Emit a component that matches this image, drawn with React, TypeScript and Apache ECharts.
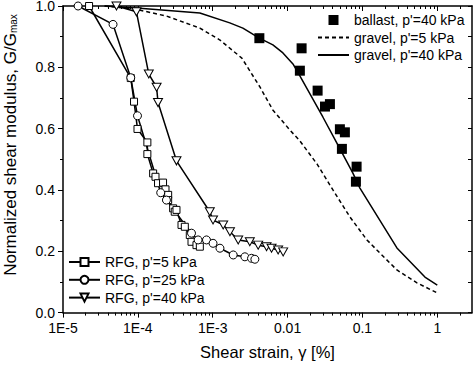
import React, { useEffect, useRef } from 'react';
import * as echarts from 'echarts';

const FONT = '"Liberation Sans", Arial, Helvetica, sans-serif';

// Axis ticks / labels
const xMajorTicks = [1e-5, 1e-4, 1e-3, 0.01, 0.1, 1];
const xTickLabels = ['1E-5', '1E-4', '1E-3', '0.01', '0.1', '1'];
const xMinorMultipliers = [2, 3, 4, 5, 6, 7, 8, 9];
const xMin = 1e-5;
const xMax = 2.91;
const yTicks = [0, 0.2, 0.4, 0.6, 0.8, 1.0];

// Series names
const nameBallast = "ballast, p'=40 kPa";
const nameGravel5 = "gravel, p'=5 kPa";
const nameGravel40 = "gravel, p'=40 kPa";
const nameRfg5 = "RFG, p'=5 kPa";
const nameRfg25 = "RFG, p'=25 kPa";
const nameRfg40 = "RFG, p'=40 kPa";

// Data (shear strain in %, normalized G/Gmax)
const ballastStrain = [0.0042, 0.0154, 0.0146, 0.0252, 0.0316, 0.0368, 0.050, 0.0583, 0.0532, 0.0836, 0.0819];
const ballastG = [0.895, 0.862, 0.789, 0.724, 0.672, 0.680, 0.598, 0.588, 0.534, 0.476, 0.427];

const gravel5Strain = [3.6e-5, 9.1e-5, 2.43e-4, 6.73e-4, 1.25e-3, 2.45e-3, 4.27e-3, 6.35e-3, 0.0107, 0.0146, 0.0247, 0.0404, 0.0681, 0.115, 0.156, 0.289, 0.535, 1.0];
const gravel5G = [1.0, 0.990, 0.967, 0.928, 0.889, 0.830, 0.736, 0.661, 0.596, 0.560, 0.485, 0.400, 0.312, 0.237, 0.204, 0.139, 0.097, 0.064];

const gravel40Strain = [3.6e-5, 1.06e-4, 6.73e-4, 1.69e-3, 2.53e-3, 4.14e-3, 6.37e-3, 8.67e-3, 0.0118, 0.0146, 0.0296, 0.0456, 0.0746, 0.0926, 0.289, 0.684, 1.0];
const gravel40G = [1.0, 0.993, 0.977, 0.945, 0.928, 0.896, 0.873, 0.847, 0.811, 0.772, 0.638, 0.553, 0.455, 0.406, 0.211, 0.116, 0.090];

const rfg5Strain = [2.23e-5, 8.04e-5, 8.89e-5, 9.89e-5, 1.34e-4, 1.34e-4, 1.6e-4, 1.72e-4, 1.86e-4, 2.17e-4, 2.34e-4, 2.54e-4, 2.54e-4, 2.96e-4, 3.11e-4, 3.28e-4, 3.83e-4, 4.24e-4, 4.94e-4, 5.21e-4, 6.07e-4, 6.73e-4];
const rfg5G = [1.0, 0.765, 0.688, 0.599, 0.555, 0.517, 0.454, 0.443, 0.422, 0.424, 0.402, 0.384, 0.367, 0.340, 0.329, 0.335, 0.286, 0.280, 0.253, 0.231, 0.220, 0.215];

const rfg25Strain = [1.59e-5, 4.66e-5, 8.04e-5, 9.89e-5, 2.02e-4, 2.41e-4, 5.21e-4, 6.38e-4, 8.26e-4, 1.01e-3, 1.25e-3, 1.88e-3, 2.69e-3, 3.3e-3, 3.66e-3];
const rfg25G = [1.0, 0.940, 0.766, 0.642, 0.391, 0.367, 0.259, 0.237, 0.237, 0.226, 0.210, 0.188, 0.182, 0.177, 0.174];

const rfg40Strain = [5.18e-5, 9.57e-5, 1.40e-4, 1.78e-4, 1.86e-4, 3.28e-4, 9.14e-4, 1.01e-3, 1.38e-3, 1.70e-3, 2.19e-3, 3.13e-3, 4.05e-3, 5.24e-3, 6.11e-3, 7.48e-3, 8.73e-3];
const rfg40G = [1.0, 0.981, 0.778, 0.735, 0.685, 0.495, 0.329, 0.302, 0.286, 0.264, 0.237, 0.231, 0.220, 0.215, 0.210, 0.204, 0.198];

const zip = (xs: number[], ys: number[]) => xs.map((x, i) => [x, ys[i]]);

const xMinorTicks: number[] = [];
xMajorTicks.forEach((m) => {
  xMinorMultipliers.forEach((k) => {
    const v = m * k;
    if (v <= xMax) xMinorTicks.push(v);
  });
});

const xLabel = (v: number) => {
  const idx = xMajorTicks.findIndex((m) => Math.abs(Math.log10(v) - Math.log10(m)) < 1e-6);
  return idx >= 0 ? xTickLabels[idx] : '';
};

const black = '#000';

function makeXAxis(position: 'top' | 'bottom', major: boolean, inside: boolean, withLabels: boolean) {
  return {
    type: 'log',
    logBase: 10,
    min: xMin,
    max: xMax,
    position,
    name: withLabels ? 'Shear strain, \u03b3 [%]' : '',
    nameLocation: 'middle',
    nameGap: 31,
    nameTextStyle: { fontSize: 16.5, color: black, fontFamily: FONT },
    axisLine: { show: major, onZero: false, lineStyle: { color: black, width: 1.5 } },
    axisTick: {
      show: true,
      inside,
      length: major ? 5 : 3,
      customValues: major ? xMajorTicks : xMinorTicks,
      lineStyle: { color: black, width: 1 },
    },
    axisLabel: {
      show: withLabels,
      customValues: xMajorTicks,
      margin: 8,
      fontSize: 14,
      color: black,
      fontFamily: FONT,
      formatter: (v: number) => xLabel(v),
    },
    splitLine: { show: false },
    minorTick: { show: false },
    minorSplitLine: { show: false },
  };
}

function makeYAxis(position: 'left' | 'right') {
  const left = position === 'left';
  return {
    type: 'value',
    min: yTicks[0],
    max: yTicks[yTicks.length - 1],
    interval: 0.2,
    position,
    axisLine: { show: true, onZero: false, lineStyle: { color: black, width: 1.5 } },
    axisTick: { show: true, inside: !left, length: left ? 5 : 4, lineStyle: { color: black, width: 1 } },
    minorTick: { show: true, splitNumber: 2, length: left ? 3 : 4, lineStyle: { color: black, width: 1 } },
    axisLabel: {
      show: left,
      margin: 8,
      fontSize: 14,
      lineHeight: 11,
      color: black,
      fontFamily: FONT,
      formatter: (v: number) => v.toFixed(1),
    },
    splitLine: { show: false },
  };
}

const openSymbolStyle = { color: '#fff', borderColor: black, borderWidth: 1, opacity: 1 };
const rfgLine = { color: black, width: 1.5 };

export default function App() {
  const ref = useRef<HTMLDivElement>(null);

  useEffect(() => {
    document.body.style.margin = '0';
    if (!ref.current) return;
    const chart = echarts.init(ref.current, undefined, { renderer: 'svg' });
    const option: any = {
      animation: false,
      textStyle: { fontFamily: FONT },
      grid: { left: 63, right: 2, top: 6, bottom: 53.4, containLabel: false, outerBoundsMode: 'none' },
      xAxis: [
        makeXAxis('bottom', true, false, true),
        makeXAxis('bottom', false, false, false),
        makeXAxis('top', true, true, false),
        makeXAxis('top', false, true, false),
      ],
      yAxis: [makeYAxis('left'), makeYAxis('right')],
      legend: [
        {
          data: [
            { name: nameBallast, icon: 'path://M0,0H10V10H0Z', itemStyle: { opacity: 1 } },
            { name: nameGravel5, itemStyle: { opacity: 0 } },
            { name: nameGravel40, itemStyle: { opacity: 0 } },
          ],
          orient: 'vertical',
          left: 317,
          top: 13,
          padding: 0,
          itemWidth: 31,
          itemHeight: 10,
          itemGap: 3.5,
          symbolKeepAspect: true,
          textStyle: { fontSize: 14, color: black, fontFamily: FONT },
        },
        {
          data: [nameRfg5, nameRfg25, nameRfg40],
          orient: 'vertical',
          left: 68,
          top: 255,
          padding: 0,
          itemWidth: 31,
          itemHeight: 10,
          itemGap: 3.8,
          textStyle: { fontSize: 14, color: black, fontFamily: FONT },
        },
      ],
      graphic: [
        {
          type: 'text',
          x: 10,
          y: 145,
          rotation: Math.PI / 2,
          style: {
            text: '{a|Normalized shear modulus, G/G}{b|max}',
            align: 'center',
            verticalAlign: 'middle',
            fill: black,
            rich: {
              a: { fontSize: 17, fontFamily: FONT, fill: black, lineHeight: 17, verticalAlign: 'top' },
              b: { fontSize: 10, fontFamily: FONT, fill: black, lineHeight: 10, verticalAlign: 'bottom', padding: [10, 0, 0, 0] },
            },
          },
        },
      ],
      series: [
        {
          name: nameGravel5,
          type: 'line',
          data: zip(gravel5Strain, gravel5G),
          symbol: 'none',
          showSymbol: false,
          clip: false,
          itemStyle: { color: black },
          lineStyle: { color: black, width: 1.5, type: [4, 3] },
        },
        {
          name: nameGravel40,
          type: 'line',
          data: zip(gravel40Strain, gravel40G),
          symbol: 'none',
          showSymbol: false,
          clip: false,
          itemStyle: { color: black },
          lineStyle: { color: black, width: 1.5 },
        },
        {
          name: nameRfg5,
          type: 'line',
          data: zip(rfg5Strain, rfg5G),
          symbol: 'rect',
          symbolSize: 7,
          clip: false,
          itemStyle: openSymbolStyle,
          lineStyle: rfgLine,
        },
        {
          name: nameRfg25,
          type: 'line',
          data: zip(rfg25Strain, rfg25G),
          symbol: 'circle',
          symbolSize: 8,
          clip: false,
          itemStyle: openSymbolStyle,
          lineStyle: rfgLine,
        },
        {
          name: nameRfg40,
          type: 'line',
          data: zip(rfg40Strain, rfg40G),
          symbol: 'path://M0,0 L10,0 L5,9 Z',
          symbolSize: [9, 8],
          clip: false,
          itemStyle: openSymbolStyle,
          lineStyle: rfgLine,
        },
        {
          name: nameBallast,
          type: 'scatter',
          data: zip(ballastStrain, ballastG),
          symbol: 'rect',
          symbolSize: 10,
          clip: false,
          itemStyle: { color: black, opacity: 1 },
          z: 5,
        },
      ],
    };
    chart.setOption(option);
    return () => chart.dispose();
  }, []);

  return (
    <div
      ref={ref}
      style={{ position: 'absolute', left: 0, top: 0, width: 474, height: 366, background: '#fff' }}
    />
  );
}
